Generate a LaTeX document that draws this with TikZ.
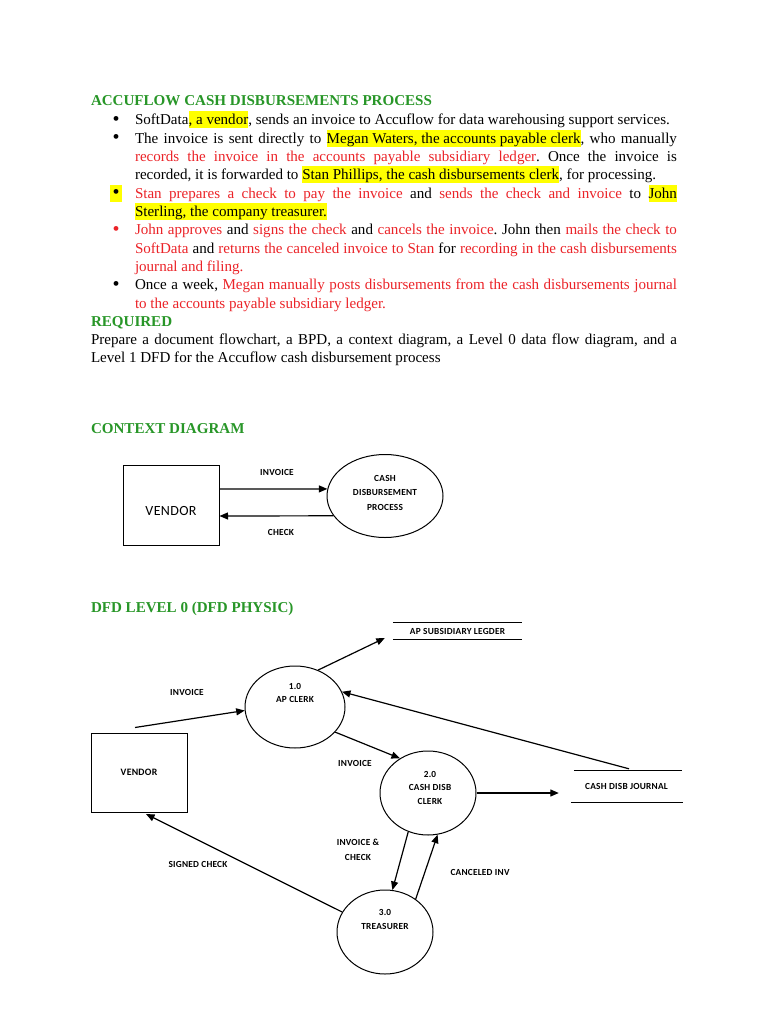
\documentclass[tikz,border=0pt]{standalone}
\usepackage{fontspec}
\setmainfont{Liberation Serif}
\newfontfamily\dfont[LetterSpace=2.5]{Carlito}
\usetikzlibrary{shapes.geometric,arrows.meta}
\definecolor{tred}{RGB}{235,35,40}
\definecolor{tgreen}{RGB}{40,150,40}
\definecolor{hly}{RGB}{255,255,0}
\frenchspacing
\newcommand\hlt[1]{{\setlength\fboxsep{0pt}\colorbox{hly}{\rule[-3.4pt]{0pt}{17pt}#1}}}
\newcommand\rd[1]{\textcolor{tred}{#1}}
\newcommand\jline[1]{\makebox[542pt][s]{#1}}
\newcommand\bul{{\fontsize{20}{18}\selectfont\raisebox{-0.6pt}{•}}}
\begin{document}
\begin{tikzpicture}[x=1pt,y=-1pt,
  txt/.style={anchor=base west,inner sep=0pt,outer sep=0pt,font=\fontsize{15.06}{18.3}\selectfont},
  head/.style={txt,font=\fontsize{15.06}{18.3}\selectfont\bfseries,text=tgreen},
  lbl/.style={inner sep=0pt,font=\dfont\bfseries\fontsize{9.3}{14}\selectfont,align=center},
  proc/.style={ellipse,draw,line width=1pt,inner sep=0pt},
  ent/.style={rectangle,draw,line width=1pt,inner sep=0pt},
  arr/.style={-{Triangle[length=8.5pt,width=7pt]},line width=1.2pt}]
\useasboundingbox (0,0) rectangle (768,1024);
% ---------- text ----------
\node[head] (title) at (91,106) {ACCUFLOW CASH DISBURSEMENTS PROCESS};
\node[txt] (b1) at (112.5,125) {\bul};
\node[txt] (l1) at (135,125) {SoftData\hlt{, a vendor}, sends an invoice to Accuflow for data warehousing support services.};
\node[txt] (b2) at (112.5,143.3) {\bul};
\node[txt] (l2) at (135,143.3) {\jline{The invoice is sent directly to \hlt{Megan Waters, the accounts payable clerk}, who manually}};
\node[txt] (l3) at (135,161.6) {\jline{\rd{records the invoice in the accounts payable subsidiary ledger}. Once the invoice is}};
\node[txt] (l4) at (135,179.9) {recorded, it is forwarded to \hlt{Stan Phillips, the cash disbursements clerk}, for processing.};
\node[txt] (b3) at (110,198.2) {\hlt{\hspace{2.5pt}\bul\hspace{2.5pt}}};
\node[txt] (l5) at (135,198.2) {\jline{\rd{Stan prepares a check to pay the invoice} and \rd{sends the check and invoice} to \hlt{John}}};
\node[txt] (l6) at (135,216.5) {\hlt{Sterling, the company treasurer.}};
\node[txt] (b4) at (112.5,234.8) {\rd{\bul}};
\node[txt] (l7) at (135,234.8) {\jline{\rd{John approves} and \rd{signs the check} and \rd{cancels the invoice}. John then \rd{mails the check to}}};
\node[txt] (l8) at (135,253.1) {\jline{\rd{SoftData} and \rd{returns the canceled invoice to Stan} for \rd{recording in the cash disbursements}}};
\node[txt] (l9) at (135,271.4) {\rd{journal and filing.}};
\node[txt] (b5) at (112.5,289.7) {\bul};
\node[txt] (l10) at (135,289.7) {\jline{Once a week, \rd{Megan manually posts disbursements from the cash disbursements journal}}};
\node[txt] (l11) at (135,308) {\rd{to the accounts payable subsidiary ledger.}};
\node[head] (req) at (91,326.3) {REQUIRED};
\node[txt] (p1) at (91,344.6) {\makebox[586pt][s]{Prepare a document flowchart, a BPD, a context diagram, a Level 0 data flow diagram, and a}};
\node[txt] (p2) at (91,362.9) {Level 1 DFD for the Accuflow cash disbursement process};
\node[head] (hctx) at (91,433) {CONTEXT DIAGRAM};
\node[head] (hdfd) at (91,612) {DFD LEVEL 0 (DFD PHYSIC)};
% ---------- context diagram ----------
\node[ent,minimum width=96pt,minimum height=80pt,
  label={[name=vbt,inner sep=0pt,font=\dfont\fontsize{14}{16}\selectfont,yshift=-6pt]center:VENDOR}] (vb) at (171,505) {};
\node[proc,minimum width=116pt,minimum height=83pt,
  label={[lbl,name=cet,yshift=3.5pt,font=\dfont\bfseries\fontsize{9.3}{14.5}\selectfont]center:{CASH\\DISBURSEMENT\\PROCESS}}] (ce) at (385,496) {};
\draw[arr] ([yshift=16pt]vb.east) -- (ce.173);
\draw[arr] (ce.201.5) -- ([yshift=-11pt]vb.east);
\node[lbl] (li1) at (277,472) {INVOICE};
\node[lbl] (lc1) at (281,532) {CHECK};
% ---------- DFD level 0 ----------
\node[ent,minimum width=96pt,minimum height=79pt,font=\dfont\bfseries\fontsize{9.8}{12}\selectfont] (vd) at (139,772.5) {VENDOR};
\node[proc,minimum width=100pt,minimum height=82pt,
  label={[lbl,name=c1t,yshift=14.5pt,font=\dfont\bfseries\fontsize{9.3}{13}\selectfont]center:{1.0\\AP CLERK}}] (c1) at (295,707) {};
\node[proc,minimum width=96pt,minimum height=84pt,
  label={[lbl,name=c2t,yshift=5.5pt,xshift=2pt,font=\dfont\bfseries\fontsize{9.3}{13.5}\selectfont]center:{2.0\\CASH DISB\\CLERK}}] (c2) at (428,793) {};
\node[proc,minimum width=96pt,minimum height=84pt,
  label={[lbl,name=c3t,yshift=13pt,font=\dfont\bfseries\fontsize{9.3}{14}\selectfont]center:{3.0\\TREASURER}}] (c3) at (385,932) {};
\node[lbl,minimum width=129pt,minimum height=16pt] (ap) at (457.5,631) {AP SUBSIDIARY LEGDER};
\draw[line width=1pt] (ap.north west) -- (ap.north east) (ap.south west) -- (ap.south east);
\node[lbl,minimum width=111pt,minimum height=31pt] (jr) at (626.5,786.5) {CASH DISB JOURNAL};
\draw[line width=1pt] ([xshift=3pt]jr.north west) -- (jr.north east) (jr.south west) -- ([xshift=1pt]jr.south east);
\coordinate (jrin) at ([xshift=-12pt]jr.west);
\draw[arr] ([shift={(-4pt,5pt)}]vd.north) -- (c1.184);
\draw[arr] (c1.58) -- ([shift={(-8pt,-7pt)}]ap.west);
\draw[arr] ([shift={(2.5pt,2pt)}]jr.north) -- (c1.18);
\draw[arr] (c1.328) -- (c2.129);
\draw[arr] (c2.east) -- (jrin |- c2.east);
\draw[arr] (c2.243) -- (c3.80);
\draw[arr] (c3.47) -- (c2.283);
\draw[arr] (c3.155) -- ([shift={(7pt,-1.5pt)}]vd.south);
\node[lbl] (li2) at (187,692) {INVOICE};
\node[lbl] (li3) at (355,763) {INVOICE};
\node[lbl,font=\dfont\bfseries\fontsize{9.3}{15}\selectfont] (lic) at (358,849.5) {INVOICE \&\\CHECK};
\node[lbl] (lci) at (480,872) {CANCELED INV};
\node[lbl] (lsc) at (198,864) {SIGNED CHECK};
\end{tikzpicture}
\end{document}
